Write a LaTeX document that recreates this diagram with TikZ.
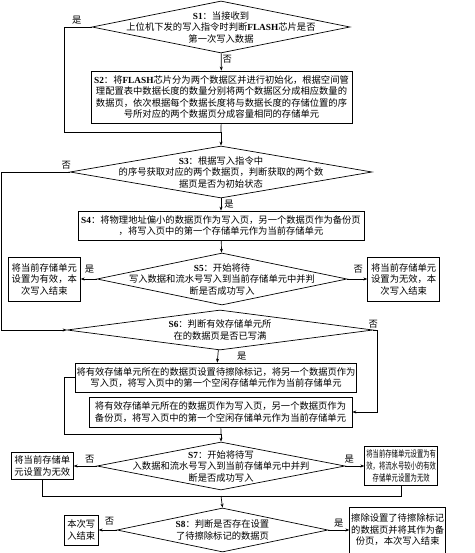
\documentclass[tikz,border=0pt]{standalone}
\usepackage{fontspec}
\setmainfont{Noto Sans CJK SC}
\newfontfamily\latb{Liberation Serif}
\newfontfamily\narrowcjk{Noto Sans CJK SC}[FakeStretch=0.68]
\usepackage{tikz}
\usetikzlibrary{positioning, arrows.meta, shapes.geometric}
\newcommand{\stp}[1]{{\latb\bfseries #1}}

\begin{document}
\begin{tikzpicture}[x=1pt, y=-1pt,
  every node/.style={font=\fontsize{9.3pt}{11.5pt}\selectfont},
  box/.style={draw, line width=0.7pt, align=center, inner sep=1pt},
  dec/.style={draw, diamond, line width=0.7pt, inner sep=0pt},
  dtxt/.style={align=center, inner sep=0pt},
  lbl/.style={inner sep=1pt},
  ln/.style={line width=0.7pt},
  arr/.style={ln, -{Stealth[length=4pt, width=3pt]}}]
  \useasboundingbox (0,0) rectangle (474,553);

  %% S1, S2
  \node[dec, minimum width=258pt, minimum height=52pt] (s1) at (221,27) {};
  \node[dtxt] (s1t) at (s1) {\stp{S1}：当接收到\\上位机下发的写入指令时判断\stp{FLASH}芯片是否\\第一次写入数据};
  \node[box, minimum width=261pt, minimum height=52pt] (s2) at (221.5,97) {\stp{S2}：将\stp{FLASH}芯片分为两个数据区并进行初始化，根据空间管\\理配置表中数据长度的数量分别将两个数据区分成相应数量的\\数据页，依次根据每个数据长度将与数据长度的存储位置的序\\号所对应的两个数据页分成容量相同的存储单元};
  \coordinate (j2) at (221,132);

  %% S3, S4
  \node[dec, minimum width=302pt, minimum height=52pt] (s3) at (221,172) {};
  \node[dtxt] (s3t) at (s3) {\stp{S3}：根据写入指令中\\的序号获取对应的两个数据页，判断获取的两个数\\据页是否为初始状态};
  \node[box, minimum width=286pt, minimum height=29pt] (s4) at (221,225.5) {\stp{S4}：将物理地址偏小的数据页作为写入页，另一个数据页作为备份页\\，将写入页中的第一个存储单元作为当前存储单元};

  %% S5
  \node[dec, minimum width=250pt, minimum height=52pt] (s5) at (222,279) {};
  \node[dtxt] (s5t) at (s5) {\stp{S5}：开始将待\\写入数据和流水号写入到当前存储单元中并判\\断是否成功写入};
  \node[box, minimum width=72pt, minimum height=44pt, left=16pt of s5] (l5) {将当前存储单元\\设置为有效，本\\次写入结束};
  \node[box, minimum width=72pt, minimum height=44pt, right=20pt of s5] (r5) {将当前存储单元\\设置为无效，本\\次写入结束};

  %% S6
  \node[dec, minimum width=306pt, minimum height=40pt] (s6) at (220,330) {};
  \node[dtxt] (s6t) at (s6) {\stp{S6}：判断有效存储单元所\\在的数据页是否已写满};
  \node[box, minimum width=276pt, minimum height=29pt] (ba) at (216,377.5) {将有效存储单元所在的数据页设置待擦除标记，将另一个数据页作为\\写入页，将写入页中的第一个空闲存储单元作为当前存储单元};
  \node[box, minimum width=263pt, minimum height=30pt] (bb) at (220.5,412) {将有效存储单元所在的数据页作为写入页，另一个数据页作为\\备份页，将写入页中的第一个空闲存储单元作为当前存储单元};
  \coordinate (j6) at (221,434);

  %% S7
  \node[dec, minimum width=248pt, minimum height=48pt] (s7) at (221,466) {};
  \node[dtxt] (s7t) at (s7) {\stp{S7}：开始将待写\\入数据和流水号写入到当前存储单元中并判\\断是否成功写入};
  \node[box, minimum width=62pt, minimum height=27pt, left=23pt of s7] (l7) {将当前存储单\\元设置为无效};
  \node[box, minimum width=73pt, minimum height=39pt, right=19pt of s7,
        font=\narrowcjk\fontsize{9.3pt}{12pt}\selectfont, inner sep=0.5pt] (r7)
        {将当前存储单元设置为有\\效，将流水号较小的有效\\存储单元设置为无效};
  \coordinate (j7) at (221,496);

  %% S8
  \node[dec, minimum width=211pt, minimum height=44pt] (s8) at (222.5,530) {};
  \node[dtxt] (s8t) at (s8) {\stp{S8}：判断是否存在设置\\了待擦除标记的数据页};
  \node[box, minimum width=34pt, minimum height=30pt, left=18pt of s8] (l8) {本次写\\入结束};
  \node[box, minimum width=96pt, minimum height=46pt, right=21pt of s8] (r8) {擦除设置了待擦除标记\\的数据页并将其作为备\\份页，本次写入结束};

  %% arrows
  \draw[arr] (s1) -- node[lbl, right, pos=0.35]{否} (s2);
  \draw[ln] (s1.west) -- node[lbl, above=1pt, pos=0.55]{是} ++(-27,0) |- (j2);
  \draw[ln] (s2) -- (j2);
  \draw[arr] (j2) -- (s3.north);
  \draw[arr] (s3) -- node[lbl, right=2pt, pos=0.5]{是} (s4);
  \draw[arr] (s3.west) -- node[lbl, above=1pt, pos=0.05]{否} ++(-68,0) |- (s6.west);
  \draw[arr] (s4) -- (s5);
  \draw[arr] (s5) -- node[lbl, above=4pt, pos=0.45]{是} (l5);
  \draw[arr] (s5) -- node[lbl, above=4pt, pos=0.55]{否} (r5);
  \draw[arr] (s6) -- node[lbl, right=18pt, pos=0.5]{是} (ba);
  \draw[arr] (s6.east) -- node[lbl, above, pos=0]{否} ++(4,0) |- (bb.east);
  \draw[ln] (ba.west) -- ++(-11,0) |- (j6);
  \draw[ln] (bb) -- (j6);
  \draw[arr] (j6) -- (s7.north);
  \draw[arr] (s7) -- node[lbl, above=1pt, pos=0.3]{否} (l7);
  \draw[arr] (s7) -- node[lbl, above=1pt, pos=0.2]{是} (r7);
  \draw[ln] (l7) |- (j7);
  \draw[ln] (r7) |- (j7);
  \draw[arr] (j7) -- (s8.north);
  \draw[arr] (s8) -- node[lbl, above=3pt, pos=0.4]{否} (l8);
  \draw[arr] (s8) -- node[lbl, above=1pt, pos=0.5]{是} (r8);
\end{tikzpicture}
\end{document}
